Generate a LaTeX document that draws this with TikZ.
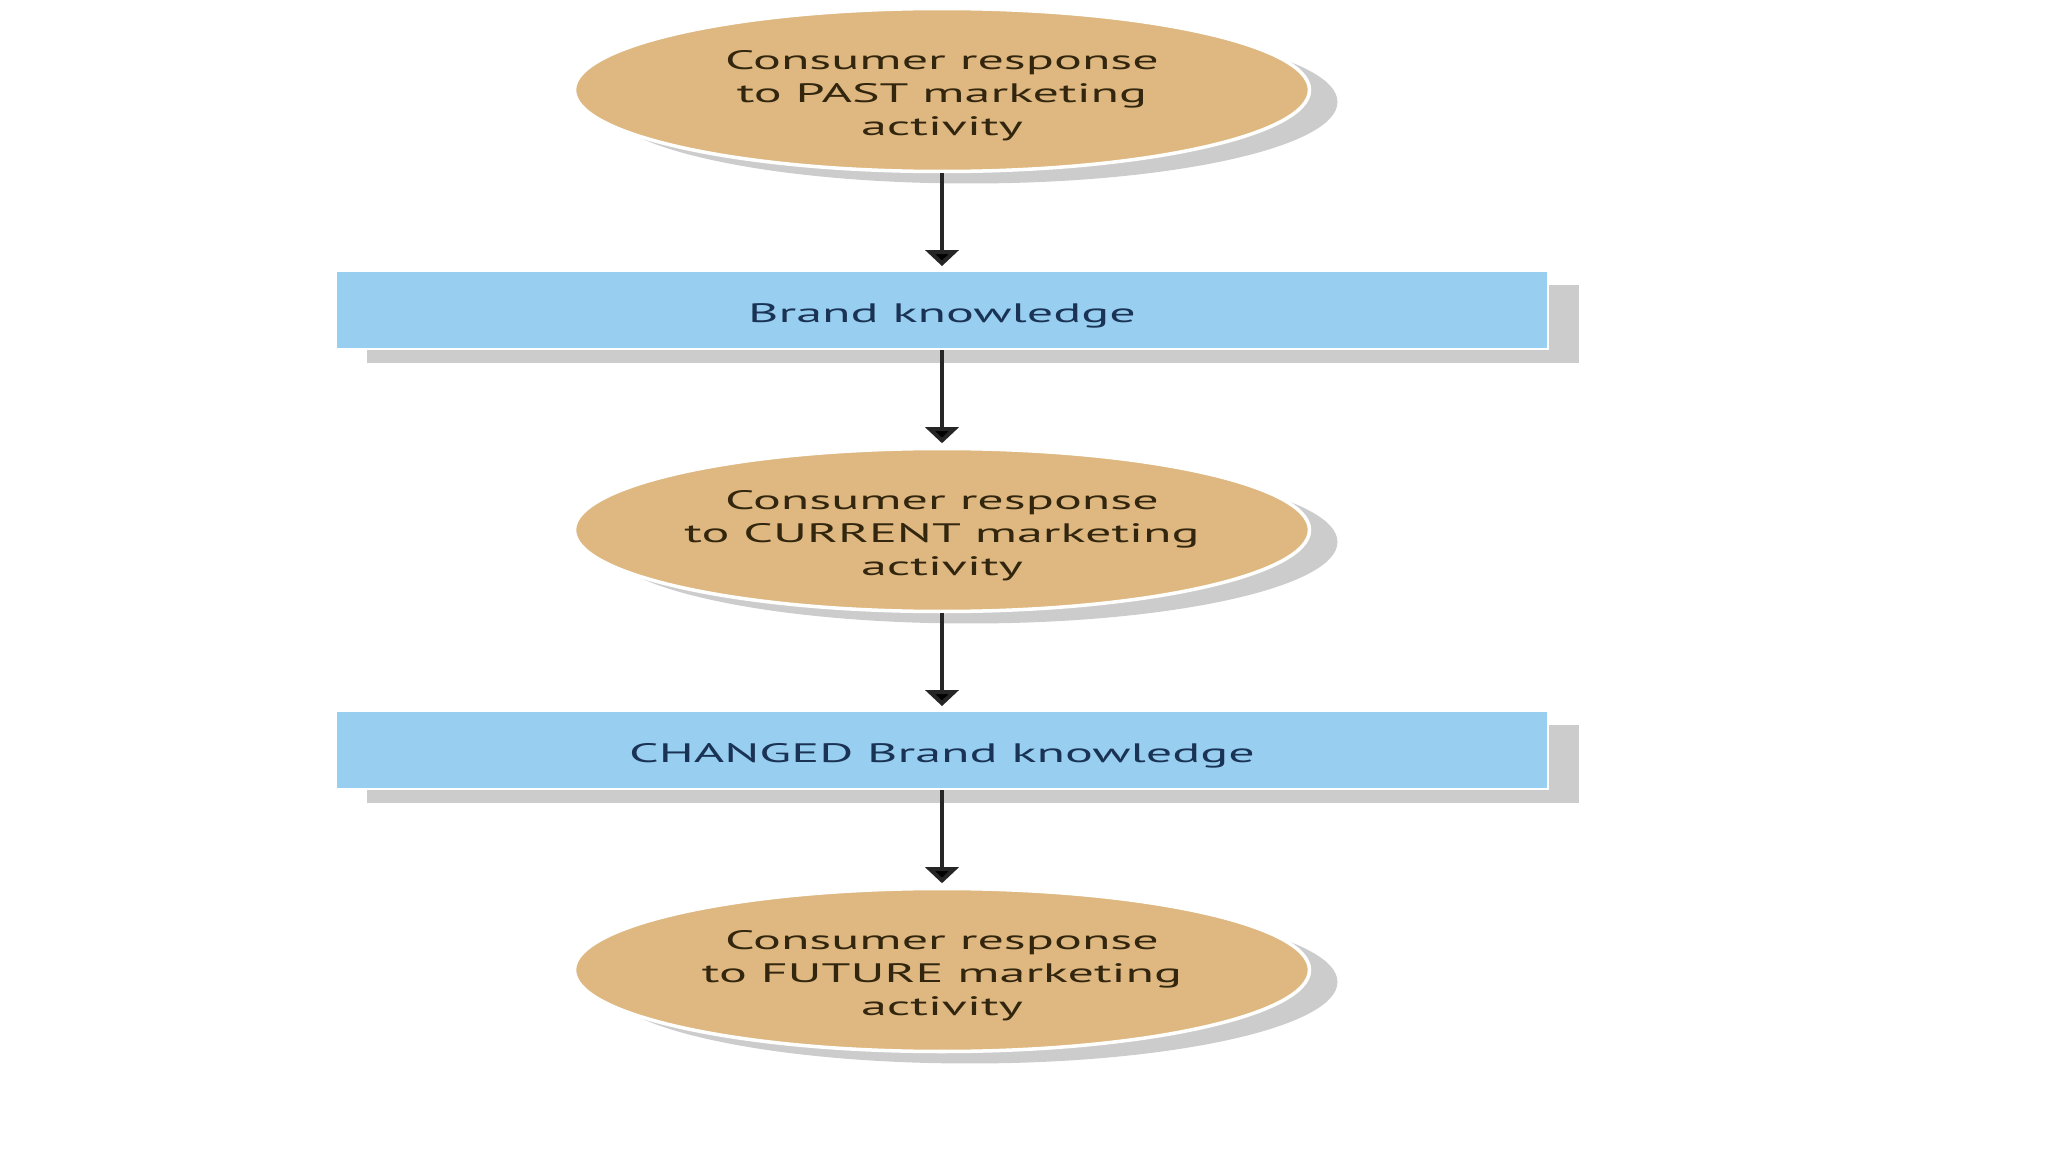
\documentclass[tikz,border=0pt]{standalone}
\usepackage{graphicx}
\usepackage{fontspec}
\setmainfont{PT Sans}
\usepackage{tikz}
\usetikzlibrary{positioning, shapes.geometric, shadows, arrows.meta}

\definecolor{tan}{HTML}{DEB880}
\definecolor{sky}{HTML}{98CEF0}
\definecolor{brownink}{HTML}{33260F}
\definecolor{navyink}{HTML}{1A3354}

% text in the source is stretched sideways
\newcommand{\wide}[1]{\raisebox{-0.06cm}[\height][\depth]{\scalebox{1.95}[1]{\begin{tabular}{@{}c@{}}#1\end{tabular}}}}

\tikzset{
  resp/.style={ellipse, fill=tan, draw=white, line width=1pt, text=brownink,
    minimum width=7.35cm, minimum height=1.63cm, inner sep=0pt,
    general shadow={fill=black!20, shadow xshift=0.28cm, shadow yshift=-0.12cm}},
  know/.style={rectangle, fill=sky, draw=white, line width=0.8pt, text=navyink,
    minimum width=12.12cm, minimum height=0.78cm, inner sep=0pt,
    general shadow={fill=black!20, shadow xshift=0.31cm, shadow yshift=-0.14cm}},
}

\begin{document}
\begin{tikzpicture}[node distance=2.2cm, on grid, font=\fontsize{7.6}{9.4}\selectfont,
    arr/.style={-{Triangle[width=0.33cm, length=0.16cm]}, line width=1.2pt, draw=black!85, shorten >=1pt}]
        \useasboundingbox (0,0) rectangle (20.48,-11.52);
        \node[resp] (past) at (9.42,-0.9) {\wide{Consumer response\\to PAST marketing\\activity}};
        \node[know] (bk) [below=of past] {\wide{Brand knowledge}};
        \node[resp] (current) [below=of bk] {\wide{Consumer response\\to CURRENT marketing\\activity}};
        \node[know] (changed) [below=of current] {\wide{CHANGED Brand knowledge}};
        \node[resp] (future) [below=of changed] {\wide{Consumer response\\to FUTURE marketing\\activity}};

        \path[arr]
        (past) edge (bk)
        (bk) edge (current)
        (current) edge (changed)
        (changed) edge (future);

    \end{tikzpicture}
\end{document}
